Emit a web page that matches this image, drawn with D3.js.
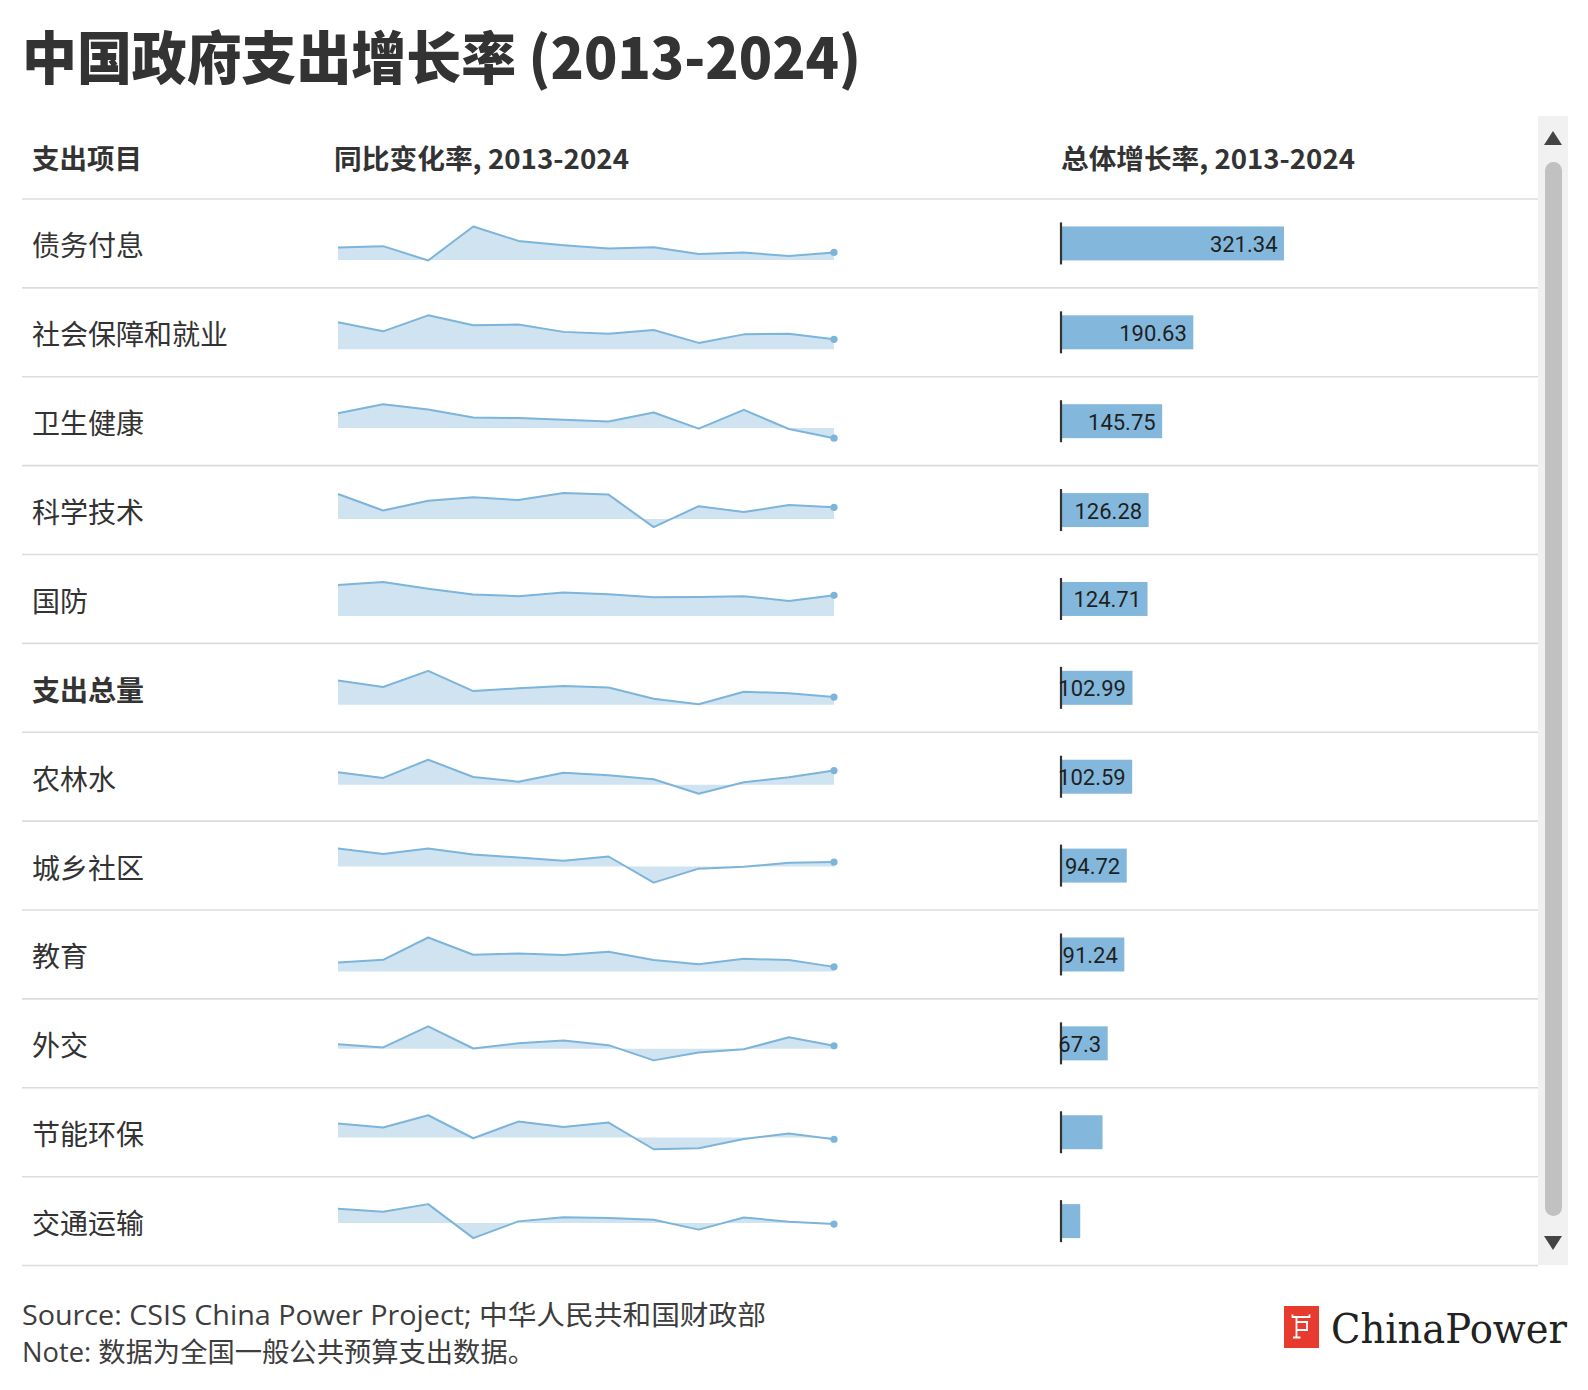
<!DOCTYPE html>
<html><head><meta charset="utf-8">
<script src="https://cdn.jsdelivr.net/npm/d3@7"></script>
<style>
html,body{margin:0;padding:0;background:#fff;}
svg{display:block;}
</style></head><body>
<svg id="chart" width="1588" height="1390"></svg>
<script>
// ---------------- DATA ----------------
const years = [2013,2014,2015,2016,2017,2018,2019,2020,2021,2022,2023,2024];
const categories = ["债务付息","社会保障和就业","卫生健康","科学技术","国防","支出总量","农林水","城乡社区","教育","外交","节能环保","交通运输"];
const totalGrowth = [321.34,190.63,145.75,126.28,124.71,102.99,102.59,94.72,91.24,67.3,59.84,27.71];

// year-over-year change, %
const yoyDebtInterest   = [15.2, 16.8, -0.5, 40.7, 23.2, 18.0, 14.0, 15.6, 7.2, 9.2, 4.8, 9.2];
const yoySocialSecurity = [15.2, 10.1, 19.1, 13.5, 13.9, 9.8, 8.7, 10.9, 3.6, 8.4, 8.8, 5.6];
const yoyHealth         = [14.6, 23.4, 18.2, 10.4, 9.8, 8.2, 6.5, 15.3, -0.6, 17.9, -1.0, -10.0];
const yoyScience        = [13.0, 4.4, 9.5, 11.3, 9.9, 13.5, 12.7, -4.2, 6.7, 3.6, 7.3, 6.1];
const yoyDefense        = [11.1, 12.2, 9.8, 7.7, 7.1, 8.4, 7.8, 6.7, 6.8, 7.1, 5.4, 7.4];
const yoyTotal          = [11.3, 8.3, 15.8, 6.4, 7.7, 8.7, 8.1, 2.8, 0.3, 6.1, 5.4, 3.6];
const yoyAgriculture    = [11.3, 6.1, 22.6, 7.0, 2.7, 10.7, 8.6, 4.9, -8.2, 2.2, 6.8, 12.8];
const yoyUrbanRural     = [23.0, 15.9, 23.0, 15.4, 11.5, 7.3, 12.8, -20.9, -2.9, -0.4, 4.7, 5.6];
const yoyEducation      = [3.7, 4.8, 14.0, 6.9, 7.4, 6.8, 8.1, 4.7, 3.0, 5.2, 4.7, 1.9];
const yoyForeign        = [6.7, 1.9, 33.0, 0.4, 8.2, 12.1, 5.3, -17.1, -5.4, -0.6, 16.9, 4.4];
const yoyEnergyEnv      = [16.8, 12.0, 26.8, -0.8, 19.2, 12.8, 18.0, -14.0, -12.8, -1.6, 4.8, -2.0];
const yoyTransport      = [14.3, 11.3, 18.8, -14.9, 1.7, 5.9, 5.0, 3.4, -6.5, 5.6, 1.4, -1.0];

const yoySeries = [yoyDebtInterest, yoySocialSecurity, yoyHealth, yoyScience, yoyDefense, yoyTotal,
                   yoyAgriculture, yoyUrbanRural, yoyEducation, yoyForeign, yoyEnergyEnv, yoyTransport];
const boldCategory = "支出总量";

const titleText = "中国政府支出增长率 (2013-2024)";
const headers = ["支出项目", "同比变化率, 2013-2024", "总体增长率, 2013-2024"];
const sourceText = "Source: CSIS China Power Project; 中华人民共和国财政部";
const noteText = "Note: 数据为全国一般公共预算支出数据。";
const logoText = "ChinaPower";

// ---------------- LAYOUT ----------------
const svg = d3.select("#chart");
const CJK = "'Noto Sans CJK SC', 'Noto Sans', sans-serif";
const tableLeft = 22, tableRight = 1538;
const headerLineY = 199, rowH = 88.88;
const labelX = 32;
const sparkX0 = 338, sparkX1 = 834, sparkHalf = 17;
const barX0 = 1061, barMaxW = 223;
const lineColor = "#7db4da", fillColor = "#cfe3f1", barColor = "#83b8dc";

function fit(sel, target) {
  const w = sel.node().getComputedTextLength();
  if (Math.abs(w - target) > 1) sel.attr("textLength", target).attr("lengthAdjust", "spacingAndGlyphs");
}

// Title
const title = svg.append("text").attr("x", 22).attr("y", 79)
  .style("font-family", CJK).style("font-weight", 900).style("font-size", "57px")
  .attr("fill", "#333").text(titleText);
fit(title, 839);

// Headers
const headerX = [32, 334, 1061], headerW = [110, 295, 294];
headers.forEach((h, i) => {
  const t = svg.append("text").attr("x", headerX[i]).attr("y", 157)
    .attr("dominant-baseline", "central")
    .style("font-family", CJK).style("font-weight", 700).style("font-size", "27px")
    .attr("fill", "#333").text(h);
  fit(t, headerW[i]);
});

// Separator lines
const sepYs = d3.range(categories.length + 1).map(i => headerLineY + i * rowH);
svg.append("g").selectAll("line").data(sepYs).join("line")
  .attr("x1", tableLeft).attr("x2", tableRight)
  .attr("y1", d => d).attr("y2", d => d)
  .attr("stroke", "#dcdcdc").attr("stroke-width", 1.6);

const x = d3.scaleLinear().domain(d3.extent(years)).range([sparkX0, sparkX1]);
const xBar = d3.scaleLinear().domain([0, d3.max(totalGrowth)]).range([0, barMaxW]);

categories.forEach((cat, i) => {
  const c = headerLineY + i * rowH + rowH / 2;
  const g = svg.append("g");
  // label
  g.append("text").attr("x", labelX).attr("y", c + 1)
    .attr("dominant-baseline", "central")
    .style("font-family", CJK).style("font-weight", cat === boldCategory ? 700 : 400)
    .style("font-size", "28px").attr("fill", "#333").text(cat);

  // sparkline
  const vals = yoySeries[i];
  const pts = years.map((yr, j) => ({ yr, v: vals[j] }));
  const y = d3.scaleLinear()
    .domain([Math.min(0, d3.min(vals)), Math.max(0, d3.max(vals))])
    .range([c + sparkHalf, c - sparkHalf]);
  const area = d3.area().x(d => x(d.yr)).y0(y(0)).y1(d => y(d.v));
  const line = d3.line().x(d => x(d.yr)).y(d => y(d.v));
  g.append("path").attr("d", area(pts)).attr("fill", fillColor);
  g.append("path").attr("d", line(pts)).attr("fill", "none")
    .attr("stroke", lineColor).attr("stroke-width", 2).attr("stroke-linejoin", "round");
  const last = pts[pts.length - 1];
  g.append("circle").attr("cx", x(last.yr)).attr("cy", y(last.v)).attr("r", 3.6).attr("fill", lineColor);

  // bar
  const bw = xBar(totalGrowth[i]);
  g.append("rect").attr("x", barX0).attr("y", c - 17).attr("width", bw).attr("height", 34).attr("fill", barColor);
  g.append("line").attr("x1", barX0).attr("x2", barX0).attr("y1", c - 21).attr("y2", c + 21)
    .attr("stroke", "#333").attr("stroke-width", 2.2);
  const lbl = g.append("text").attr("x", barX0 + bw - 6.5).attr("y", c + 1)
    .attr("text-anchor", "end").attr("dominant-baseline", "central")
    .style("font-family", "Roboto, 'Open Sans', sans-serif").style("font-size", "22px")
    .attr("fill", "#1f1f1f").text(String(totalGrowth[i]));
  if (lbl.node().getComputedTextLength() > bw) lbl.remove();
});

// Scrollbar
const sb = svg.append("g");
sb.append("rect").attr("x", 1538).attr("y", 116).attr("width", 30).attr("height", 1149).attr("fill", "#f1f1f1");
sb.append("rect").attr("x", 1545).attr("y", 162).attr("width", 17).attr("height", 1054).attr("rx", 8.5).attr("fill", "#c1c1c1");
sb.append("path").attr("d", "M1544,145 L1562,145 L1553,131 Z").attr("fill", "#444");
sb.append("path").attr("d", "M1544,1236 L1562,1236 L1553,1250 Z").attr("fill", "#444");

// Footer
const src = svg.append("text").attr("x", 22).attr("y", 1314).attr("dominant-baseline", "central")
  .style("font-family", "'Open Sans', 'Noto Sans CJK SC', sans-serif").style("font-weight", 400)
  .style("font-size", "27px").attr("fill", "#3d3d3d").text(sourceText);
fit(src, 744);
const note = svg.append("text").attr("x", 22).attr("y", 1351).attr("dominant-baseline", "central")
  .style("font-family", "'Open Sans', 'Noto Sans CJK SC', sans-serif").style("font-weight", 400)
  .style("font-size", "27px").attr("fill", "#3d3d3d").text(noteText);
fit(note, 513);

// Logo
const lg = svg.append("g");
lg.append("rect").attr("x", 1284).attr("y", 1306).attr("width", 35).attr("height", 42).attr("fill", "#e63b2e");
const icon = "M1292.5,1314.5 L1292.5,1317 L1309.5,1317 L1309.5,1314.5 " +
             "M1296.5,1317 L1296.5,1337.5 M1293,1337.5 L1300.5,1337.5 " +
             "M1296.5,1322 L1307,1322 L1307,1330 L1296.5,1330";
lg.append("path").attr("d", icon).attr("fill", "none").attr("stroke", "#fff").attr("stroke-width", 1.8);
const lt = lg.append("text").attr("x", 1331).attr("y", 1343)
  .style("font-family", "'DejaVu Serif', 'Liberation Serif', serif").style("font-size", "41px")
  .attr("fill", "#222").text(logoText);
fit(lt, 236);
</script>
</body></html>
